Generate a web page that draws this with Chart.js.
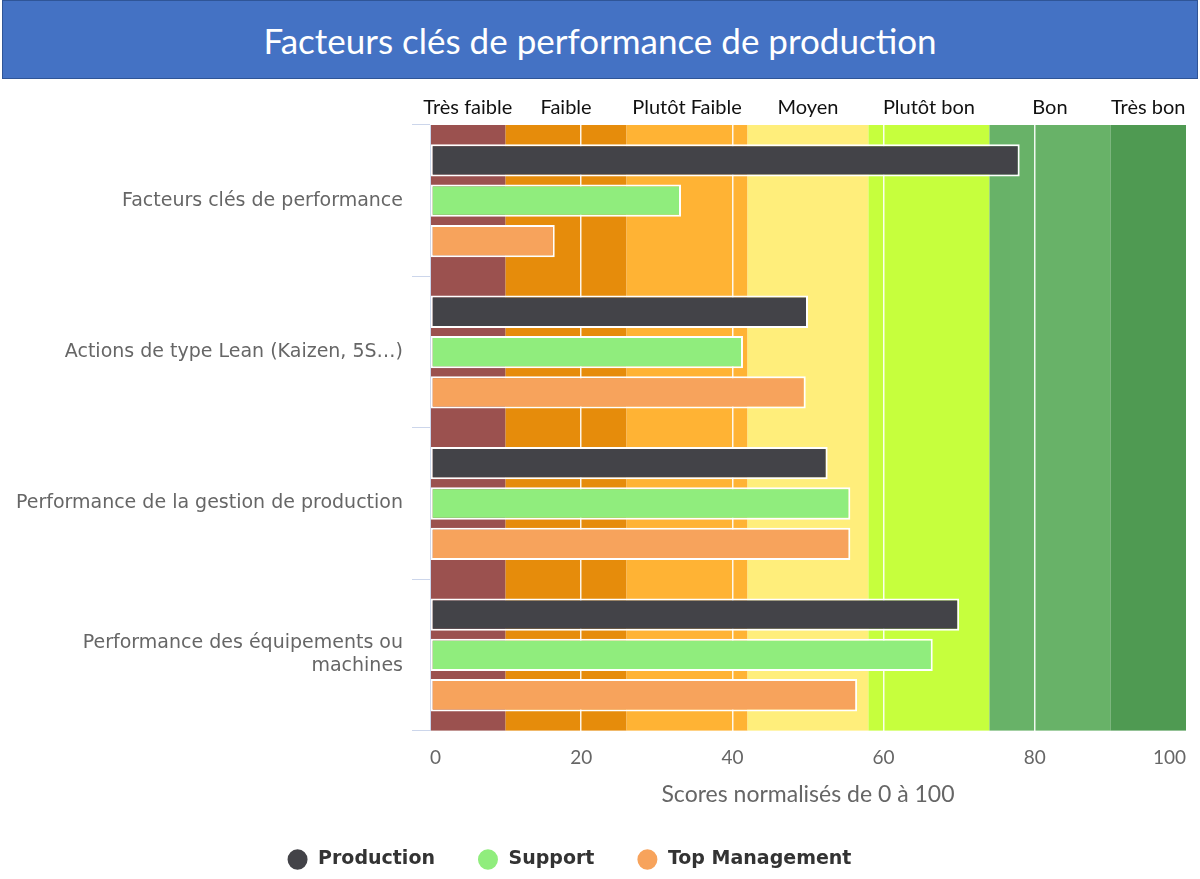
<!DOCTYPE html>
<html><head><meta charset="utf-8">
<script src="https://cdn.jsdelivr.net/npm/chart.js@4"></script>
<style>
html,body{margin:0;padding:0;background:#fff;width:1200px;height:879px;overflow:hidden}
#banner{position:absolute;left:2px;top:0;width:1194px;height:76px;background:#4472C4;border:1px solid #2F5597;color:#fff;font-family:Lato,'Open Sans',sans-serif;font-size:35px;display:flex;align-items:center;justify-content:center;padding-top:1px;box-sizing:content-box}
#wrap{position:absolute;left:0;top:80px;width:1200px;height:799px}
</style></head><body>
<div id="banner">Facteurs clés de performance de production</div>
<div id="wrap"><canvas id="c"></canvas></div>
<script>
const categories = [
  'Facteurs clés de performance',
  'Actions de type Lean (Kaizen, 5S…)',
  'Performance de la gestion de production',
  ['Performance des équipements ou', 'machines']
];
const production = [78, 50, 52.6, 70];
const support = [33.2, 41.4, 55.6, 66.5];
const topManagement = [16.5, 49.7, 55.6, 56.5];
const seriesNames = ['Production', 'Support', 'Top Management'];
const seriesColors = ['#434348', '#90ed7d', '#f7a35c'];
const xTickValues = [0, 20, 40, 60, 80, 100];
const bandLabels = ['Très faible', 'Faible', 'Plutôt Faible', 'Moyen', 'Plutôt bon', 'Bon', 'Très bon'];
const bandFrom = [0, 10, 26, 42, 58, 74, 90];
const bandTo = [10, 26, 42, 58, 74, 90, 100];
const bandColors = ['#9b514f', '#e68c0b', '#ffb334', '#ffee7b', '#c6ff3d', '#68b268', '#4f9a52'];

const bandsPlugin = {
  id: 'bands',
  afterLayout(chart) {
    const l = chart.legend;
    if (l) { l.left -= 24; l.right -= 24; }
  },
  beforeDraw(chart) {
    const {ctx, chartArea: a, scales: {x}} = chart;
    ctx.save();
    bandFrom.forEach((f, i) => {
      const x0 = x.getPixelForValue(f), x1 = x.getPixelForValue(bandTo[i]);
      ctx.fillStyle = bandColors[i];
      ctx.fillRect(x0, a.top, x1 - x0, a.bottom - a.top);
      ctx.fillStyle = '#111';
      ctx.font = '20px Lato, "Open Sans", sans-serif';
      ctx.textAlign = 'center';
      ctx.textBaseline = 'middle';
      ctx.fillText(bandLabels[i], (x0 + x1) / 2, a.top - 17);
    });
    ctx.restore();
  }
};

new Chart(document.getElementById('c'), {
  type: 'bar',
  data: {
    labels: categories,
    datasets: [production, support, topManagement].map((d, i) => ({
      label: seriesNames[i],
      data: d,
      backgroundColor: seriesColors[i],
      borderColor: '#ffffff',
      borderWidth: 2,
      borderSkipped: false,
      categoryPercentage: 0.8,
      barPercentage: 0.8
    }))
  },
  options: {
    indexAxis: 'y',
    responsive: true,
    maintainAspectRatio: false,
    animation: false,
    layout: {padding: {top: 45, right: 14, left: 0, bottom: 0}},
    scales: {
      x: {
        min: 0, max: 100,
        afterBuildTicks(scale) { scale.ticks = xTickValues.map(v => ({value: v})); },
        afterFit(scale) { scale.paddingRight = 0; scale.paddingLeft = 0; },
        grid: {
          drawTicks: false,
          color: ctx => (ctx.tick && ctx.tick.value > 0 && ctx.tick.value < 100) ? 'rgba(255,255,255,0.9)' : 'rgba(0,0,0,0)',
          lineWidth: 1.5
        },
        border: {display: false},
        ticks: {color: '#666', align: 'inner', font: {family: 'Lato, "Open Sans", sans-serif', size: 19}, padding: 16},
        title: {display: true, text: 'Scores normalisés de 0 à 100', color: '#666',
          font: {family: 'Lato, "Open Sans", sans-serif', size: 23}, padding: {top: -5, bottom: 0}}
      },
      y: {
        afterFit(scale) { scale.width = 430; },
        grid: {offset: true, drawOnChartArea: false, tickLength: 18, color: '#ccd6eb'},
        border: {display: true, color: '#ccd6eb'},
        ticks: {color: '#666', font: {family: '"DejaVu Sans", sans-serif', size: 19}, padding: 9}
      }
    },
    plugins: {
      tooltip: {enabled: false},
      legend: {
        position: 'bottom',
        labels: {
          usePointStyle: true, pointStyle: 'circle', boxHeight: 16, pointStyleWidth: 22,
          color: '#333', padding: 42,
          font: {family: '"DejaVu Sans", sans-serif', size: 19, weight: 'bold'}
        }
      }
    }
  },
  plugins: [bandsPlugin]
});
</script>
</body></html>
